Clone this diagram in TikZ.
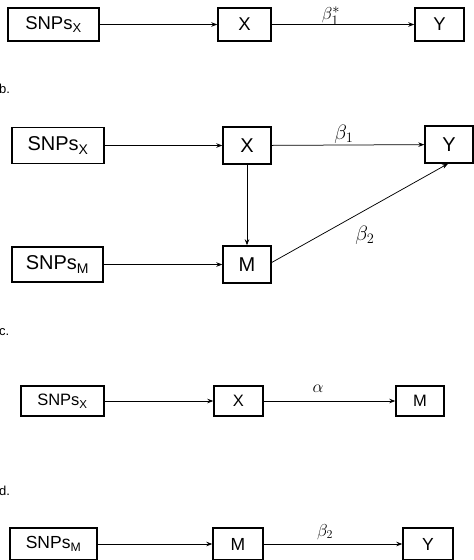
\documentclass[tikz,border=0pt]{standalone}
\usepackage{fontspec}
\setmainfont{Liberation Sans}
\usepackage{amsmath, amssymb}
\usetikzlibrary{arrows.meta}

\begin{document}
\begin{tikzpicture}
                    [x=1pt, y=-1pt,
                     box/.style={draw, line width=1.4pt, inner sep=0pt, minimum height=33pt},
                     lab/.style={font=\fontsize{18.5}{20}\selectfont},
                     tag/.style={anchor=west, inner sep=0pt, font=\fontsize{13}{15}\selectfont},
                     >={Stealth[length=6pt, width=4.5pt]}]
                    \useasboundingbox (0,0) rectangle (474,560);
                    \clip (0,0) rectangle (474,560);
                    % a.
                    \node[box, lab, minimum width=91pt] (sxa) at (53.5,24.5) {SNPs\textsubscript{X}};
                    \node[box, lab, minimum width=53pt] (xa) at (244.5,24.5) {X};
                    \node[box, lab, minimum width=49pt] (ya) at (439.5,24.5) {Y};
                    \node[font=\fontsize{19}{21}\selectfont] (ba) at (331,16) {$\beta_1^*$};
                    \draw[->, line width=0.75pt] (sxa) -- (xa);
                    \draw[->, line width=0.75pt] (xa) -- (ya);
                    % b.
                    \node[tag] (tb) at (-1,89) {b.};
                    \node[box, font=\fontsize{20}{22}\selectfont, minimum width=92pt, minimum height=36pt] (sxb) at (58,145.5) {SNPs\textsubscript{X}};
                    \node[box, font=\fontsize{20}{22}\selectfont, minimum width=48pt, minimum height=37pt] (xb) at (247,145.5) {X};
                    \node[box, font=\fontsize{20}{22}\selectfont, minimum width=48pt, minimum height=37pt] (yb) at (449,144.5) {Y};
                    \node[box, font=\fontsize{20}{22}\selectfont, minimum width=48pt, minimum height=37pt] (mb) at (247,264.5) {M};
                    \node[box, font=\fontsize{20}{22}\selectfont, minimum width=91pt, minimum height=35pt] (smb) at (57.5,264.5) {SNPs\textsubscript{M}};
                    \node[font=\fontsize{20}{22}\selectfont] (bb1) at (344,134) {$\beta_1$};
                    \node[font=\fontsize{20}{22}\selectfont] (bb2) at (365,235) {$\beta_2$};
                    \draw[->, line width=0.75pt] (sxb) -- (xb);
                    \draw[->, line width=0.75pt] (xb) -- (yb);
                    \draw[->, line width=0.75pt] (xb) -- (mb);
                    \draw[->, line width=0.75pt] (smb) -- (mb);
                    \draw[->, line width=0.75pt] ([yshift=2pt]mb.east) -- ([xshift=-1pt]yb.south);
                    % c.
                    \node[tag] (tc) at (-1,332) {c.};
                    \node[box, font=\fontsize{16.5}{18}\selectfont, minimum width=83pt, minimum height=30pt] (sxc) at (62.5,401) {SNPs\textsubscript{X}};
                    \node[box, font=\fontsize{16.5}{18}\selectfont, minimum width=49pt, minimum height=30pt] (xc) at (238.5,401) {X};
                    \node[box, font=\fontsize{16.5}{18}\selectfont, minimum width=48pt, minimum height=30pt] (mc) at (420,401) {M};
                    \node[font=\fontsize{17}{19}\selectfont] (ac) at (318,389) {$\alpha$};
                    \draw[->, line width=0.75pt] (sxc) -- (xc);
                    \draw[->, line width=0.75pt] (xc) -- (mc);
                    % d.
                    \node[tag] (td) at (-1,491) {d.};
                    \node[box, font=\fontsize{17.5}{19}\selectfont, minimum width=87pt, minimum height=32pt] (smd) at (53.5,544) {SNPs\textsubscript{M}};
                    \node[box, font=\fontsize{17.5}{19}\selectfont, minimum width=50pt, minimum height=32pt] (md) at (238,544) {M};
                    \node[box, font=\fontsize{17.5}{19}\selectfont, minimum width=50pt, minimum height=32pt] (yd) at (428,544) {Y};
                    \node[font=\fontsize{18}{20}\selectfont] (bd) at (325,532) {$\beta_2$};
                    \draw[->, line width=0.75pt] (smd) -- (md);
                    \draw[->, line width=0.75pt] (md) -- (yd);
                \end{tikzpicture}
\end{document}
